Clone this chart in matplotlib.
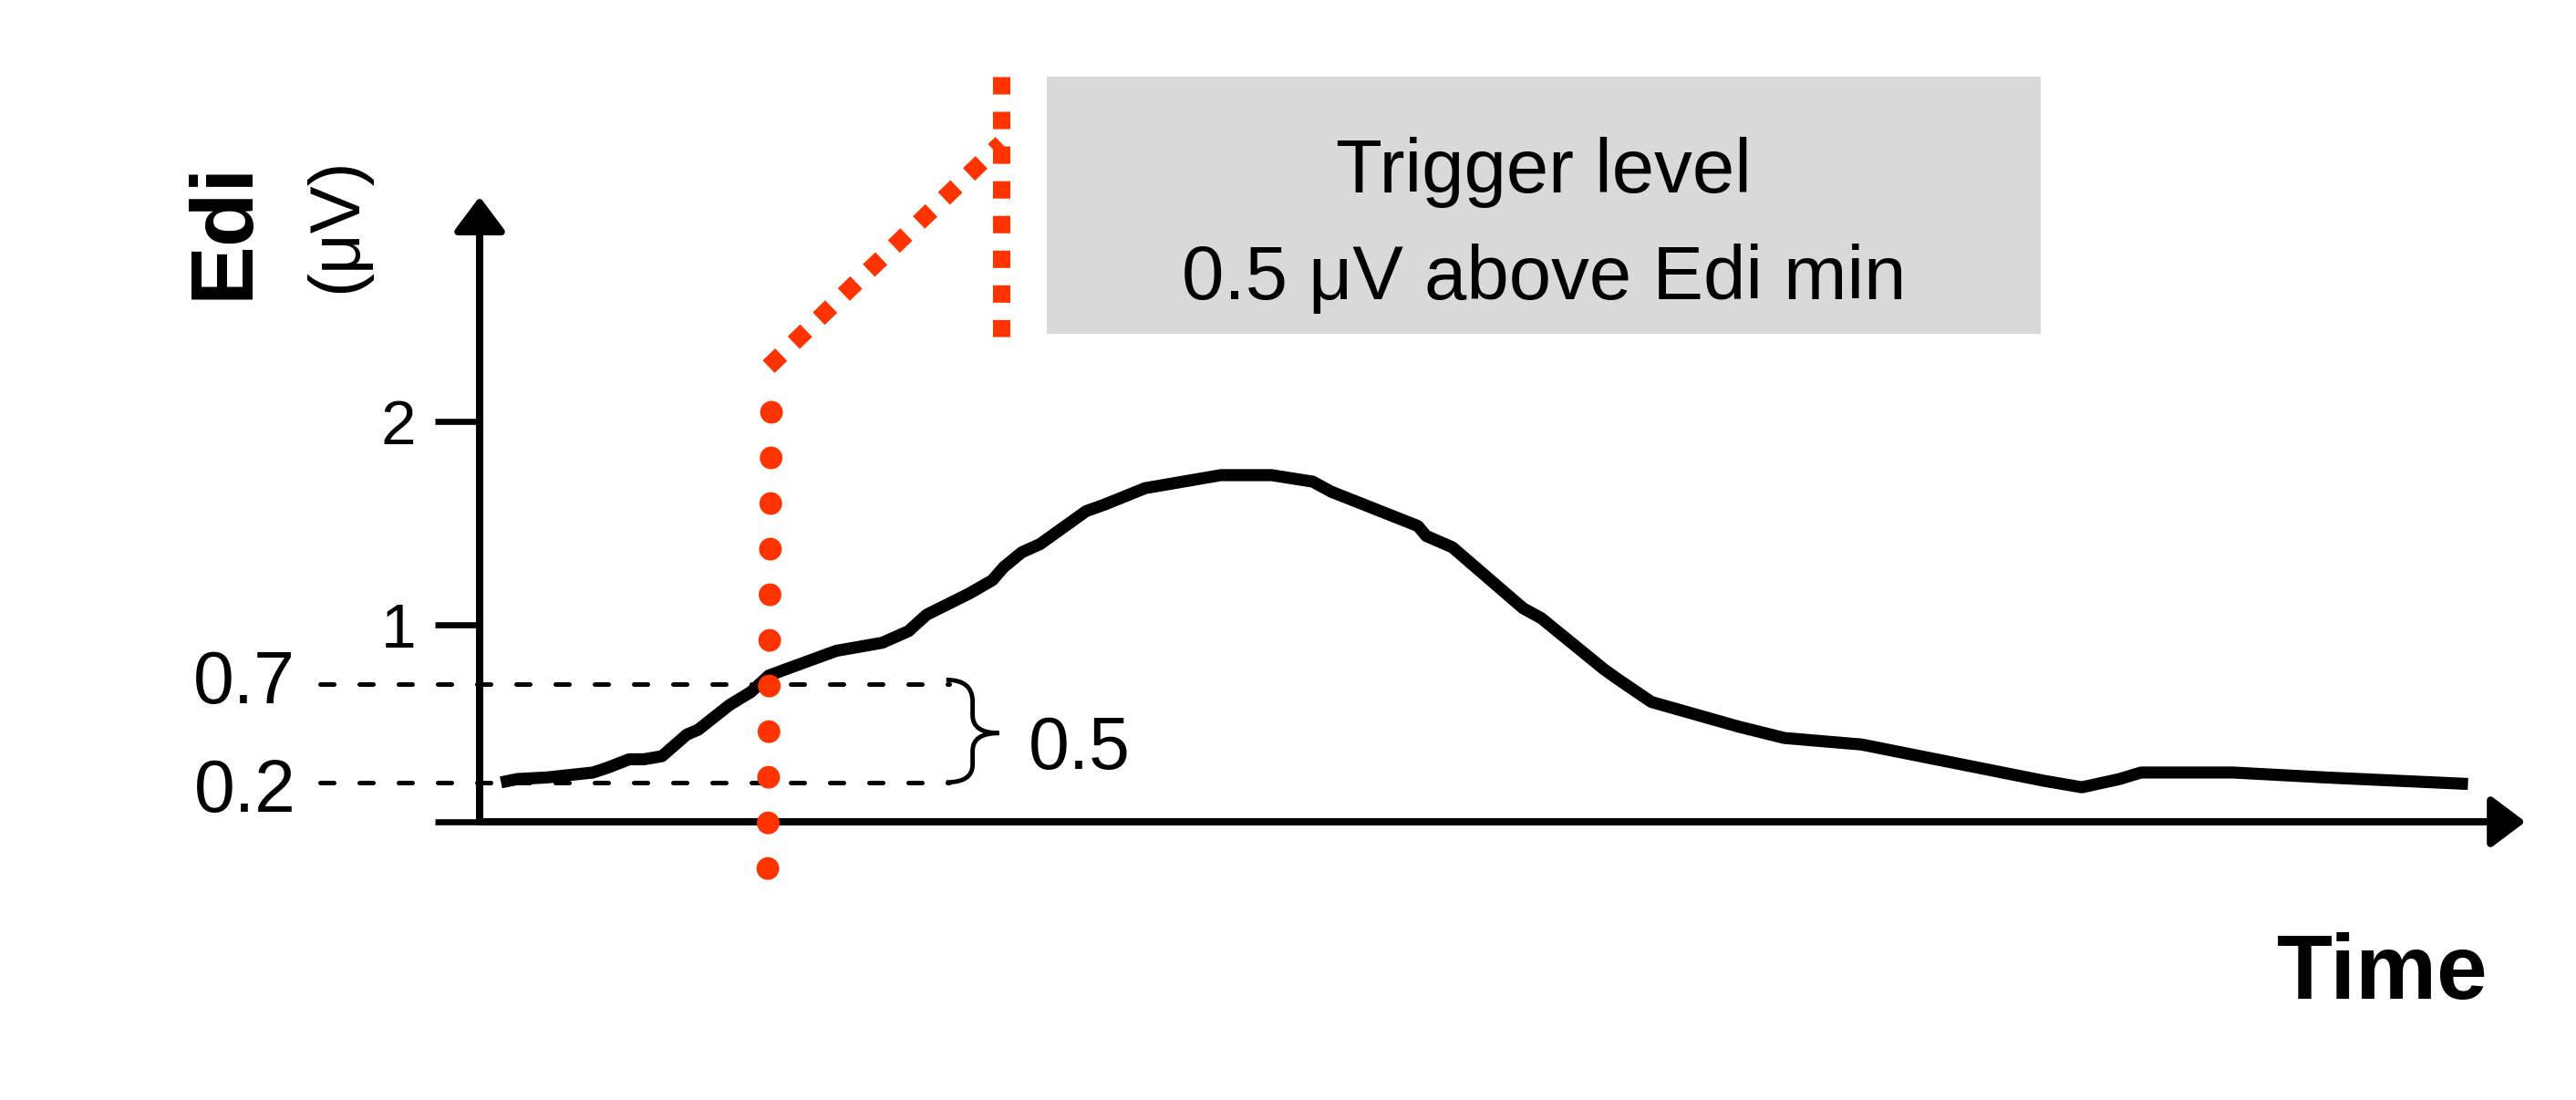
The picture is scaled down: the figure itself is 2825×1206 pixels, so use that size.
import matplotlib
matplotlib.use("Agg")
import matplotlib.pyplot as plt
from matplotlib.patches import Rectangle, PathPatch
from matplotlib.path import Path

plt.rcParams['font.family'] = ['Liberation Sans', 'DejaVu Sans']

# Edi trace (time in arbitrary units, Edi in microvolts)
t = [0.13, 0.23, 0.41, 0.69, 0.78, 0.91, 1.00, 1.11, 1.26, 1.33, 1.52, 1.65,
     1.76, 1.95, 2.17, 2.45, 2.61, 2.72, 2.98, 3.12, 3.19, 3.30, 3.41, 3.69,
     3.80, 4.05, 4.51, 4.82, 5.07, 5.18, 5.71, 5.76, 5.92, 6.35, 6.46, 6.84,
     6.91, 7.13, 7.66, 7.94, 8.41, 9.52, 9.75, 9.98, 10.11, 10.67, 11.23, 12.10]
edi = [0.200, 0.217, 0.225, 0.250, 0.275, 0.317, 0.317, 0.333, 0.442, 0.467,
       0.592, 0.658, 0.742, 0.800, 0.867, 0.908, 0.967, 1.050, 1.158, 1.225,
       1.292, 1.367, 1.408, 1.575, 1.608, 1.692, 1.758, 1.758, 1.725, 1.675,
       1.500, 1.450, 1.392, 1.083, 1.033, 0.775, 0.733, 0.608, 0.483, 0.425,
       0.392, 0.208, 0.175, 0.217, 0.250, 0.250, 0.225, 0.192]

edi_min = 0.2
trigger = 0.7
yticks = [0, 1, 2.03]
ytick_labels = ['', '1', '2']
box_lines = ['Trigger level', '0.5 \u03bcV above Edi min']

red = '#ff3300'
fig = plt.figure(figsize=(28.25, 12.06), dpi=100)
ax = fig.add_axes([526 / 2825, 305 / 1206, 2240 / 2825, 681 / 1206])
ax.set_xlim(0, 12.43)
ax.set_ylim(0, 3.15)
for s in ax.spines.values():
    s.set_visible(False)
ax.set_xticks([])
ax.set_yticks(yticks)
ax.set_yticklabels(ytick_labels)
ax.tick_params(axis='y', direction='out', length=35, width=4.8, pad=15,
               labelsize=50)

# axis arrows
arr = dict(arrowstyle='-|>,head_length=0.6,head_width=0.45', lw=5.8,
           color='black', shrinkA=0, shrinkB=0, mutation_scale=38)
ax.annotate('', xy=(0, 3.17), xytext=(0, 0), arrowprops=arr, annotation_clip=False)
ax.annotate('', xy=(12.45, 0), xytext=(0, 0), arrowprops=arr, annotation_clip=False)

# reference levels
for lvl, lab, base in [(trigger, '0.7', 0.60), (edi_min, '0.2', 0.05)]:
    ax.plot([-0.97, 2.86], [lvl, lvl], color='black', lw=3.6,
            linestyle=(0, (3, 5.6)), dash_capstyle='round', clip_on=False)
    ax.text(-1.12, base, lab, ha='right', va='baseline', fontsize=58)

# brace
xl, xv, xt = 2.84, 3.0, 3.16
mid = (trigger + edi_min) / 2
r = 0.09
verts = [(xl, trigger + 0.02), (xv, trigger + 0.02), (xv, trigger - r),
         (xv, mid + r), (xv, mid), (xt, mid),
         (xv, mid), (xv, mid - r),
         (xv, edi_min + r), (xv, edi_min), (xl, edi_min)]
codes = [Path.MOVETO, Path.CURVE3, Path.CURVE3,
         Path.LINETO, Path.CURVE3, Path.CURVE3,
         Path.CURVE3, Path.CURVE3,
         Path.LINETO, Path.CURVE3, Path.CURVE3]
ax.add_patch(PathPatch(Path(verts, codes), fc='none', ec='black', lw=3.5,
                       clip_on=False))
ax.text(3.34, 0.267, '0.5', ha='left', va='baseline', fontsize=58)

# Edi curve
ax.plot(t, edi, color='black', lw=9.5, solid_capstyle='butt',
        solid_joinstyle='round', clip_on=False, zorder=3)

# trigger markers
ax.plot([1.776, 1.754], [2.077, -0.24], color=red, lw=18,
        linestyle=(0, (0.001, 2)), dash_capstyle='round', clip_on=False, zorder=4)
ax.plot([1.759, 3.175], [2.308, 3.441], color=red, lw=13.7,
        linestyle=(0, (1, 1)), dash_capstyle='butt', clip_on=False, zorder=4)
ax.plot([3.175, 3.175], [3.779, 2.46], color=red, lw=13.7,
        linestyle=(0, (1, 1)), dash_capstyle='butt', clip_on=False, zorder=4)

# callout box
ax.add_patch(Rectangle((3.452, 2.475), 6.05, 1.304, fc='#d9d9d9', ec='none',
                       clip_on=False))
ax.text(6.478, 3.19, box_lines[0], ha='center', va='baseline', fontsize=60)
ax.text(6.478, 2.65, box_lines[1], ha='center', va='baseline', fontsize=60)

# axis titles
ax.text(-1.55, 3.0, 'Edi', rotation=90, ha='center', va='center',
        fontsize=70, fontweight='bold')
ax.text(-0.866, 3.025, '(\u03bcV)', rotation=90, ha='center', va='center',
        fontsize=56)
ax.text(11.58, -0.897, 'Time', ha='center', va='baseline', fontsize=72,
        fontweight='bold')

fig.savefig('out.png', dpi=100)
